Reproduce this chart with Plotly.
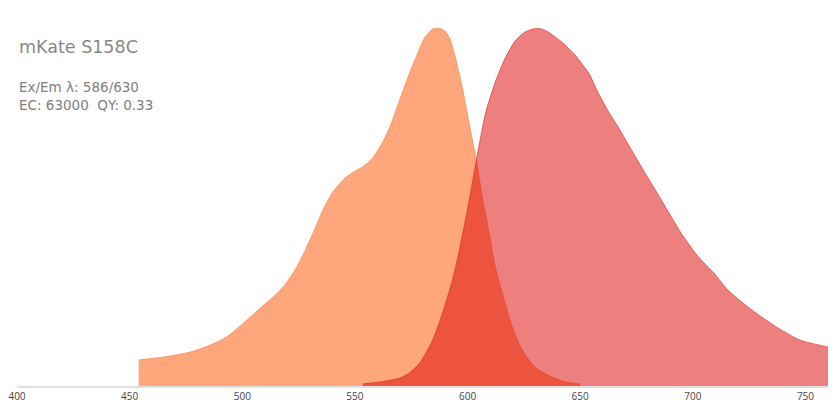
import plotly.graph_objects as go

# ______________________________________________________________________________
# DATA
# ______________________________________________________________________________

ex_wavelength = [454, 454.3, 465.3, 477.2, 486.1, 493.1, 500.6, 508.1, 515.2, 519.6, 524, 528.0,
                 532, 535.9, 540, 545.6, 549.5, 553.5, 557.9, 562.4, 565.9, 569.9, 573.4, 577.0,
                 580.9, 584.5, 587.1, 589.8, 592.0, 594.6, 597.7, 600.8, 603.9, 606.5, 609.6,
                 612.3, 615.4, 619.8, 624.2, 629.9, 637.4, 643, 650]
ex_values = [0.073, 0.073, 0.081, 0.095, 0.115, 0.137, 0.176, 0.218, 0.257, 0.288, 0.33, 0.380,
             0.435, 0.492, 0.54, 0.581, 0.598, 0.612, 0.637, 0.682, 0.729, 0.799, 0.860, 0.916,
             0.972, 0.997, 1.000, 0.992, 0.972, 0.916, 0.832, 0.729, 0.631, 0.528, 0.427,
             0.332, 0.260, 0.165, 0.101, 0.053, 0.025, 0.012, 0.005]

em_wavelength = [553.6, 562, 569.9, 574.5, 578.7, 584.5, 588.9, 593.3, 596.4, 599.9, 602.1, 603.9,
                 607.9, 612.3, 616.7, 621.1, 625.5, 631.3, 635.7, 641.8, 647.6, 653.8, 658.2,
                 662.7, 667.1, 671.5, 677.2, 686.0, 694.8, 702.3, 709.4, 715.5, 724.4, 735.8,
                 747.7, 760.1]
em_values = [0.006, 0.012, 0.022, 0.038, 0.064, 0.128, 0.204, 0.296, 0.380, 0.492, 0.567, 0.631,
             0.760, 0.849, 0.916, 0.964, 0.989, 1.000, 0.989, 0.961, 0.925, 0.874, 0.816,
             0.765, 0.721, 0.673, 0.612, 0.520, 0.427, 0.362, 0.315, 0.268, 0.221, 0.170,
             0.128, 0.109]

tick_vals = [400, 450, 500, 550, 600, 650, 700, 750]

name = 'mKate S158C'
ex_em = '586/630'
ec = 63000
qy = 0.33

# ______________________________________________________________________________
# FIGURE
# ______________________________________________________________________________

fig = go.Figure()

fig.add_trace(go.Scatter(
    x=ex_wavelength, y=ex_values,
    mode='lines', fill='tozeroy',
    line=dict(color='rgb(255,150,105)', width=1, shape='spline', smoothing=0.6),
    fillcolor='rgb(255,166,124)',
    name='Excitation', hoverinfo='skip',
))

fig.add_trace(go.Scatter(
    x=em_wavelength, y=em_values,
    mode='lines', fill='tozeroy',
    line=dict(color='rgba(215,40,40,0.6)', width=1, shape='spline', smoothing=0.6),
    fillcolor='rgba(220,10,10,0.52)',
    name='Emission', hoverinfo='skip',
))

# page body has an 8px margin, so the figure margins are trimmed to match
# (left kept at 9 so the "400" label still fits inside the figure)
fig.add_annotation(
    text=name, xref='paper', yref='paper', x=0, y=0.947,
    xanchor='left', yanchor='middle', showarrow=False,
    font=dict(family='DejaVu Sans', size=17.5, color='#888888'),
)
fig.add_annotation(
    text=f'Ex/Em λ: {ex_em}<br>EC: {ec}  QY: {qy}',
    xref='paper', yref='paper', x=0, y=0.81,
    xanchor='left', yanchor='middle', showarrow=False, align='left',
    font=dict(family='DejaVu Sans', size=13.5, color='#808080'),
)

fig.update_layout(
    width=840, height=420,
    margin=dict(l=9, r=20, t=20, b=42),
    paper_bgcolor='white', plot_bgcolor='white',
    showlegend=False,
    xaxis=dict(
        range=[400, 760], tickvals=tick_vals, showgrid=False, zeroline=False,
        showline=True, linecolor='#e0e0e0', linewidth=2, layer='below traces',
        ticks='', tickfont=dict(size=10, color='#444444'), automargin=False,
        ticklabeloverflow='allow',
    ),
    yaxis=dict(range=[0, 1], visible=False, showgrid=False, zeroline=False,
               automargin=False),
)

fig.write_html('out.html')
